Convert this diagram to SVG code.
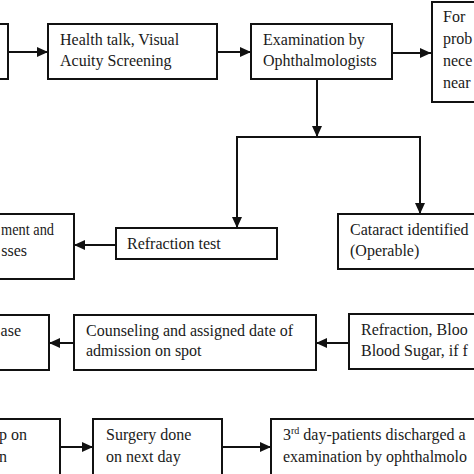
<svg xmlns="http://www.w3.org/2000/svg" width="474" height="474" viewBox="0 0 474 474">
<defs>
<marker id="ah" markerUnits="userSpaceOnUse" markerWidth="11" markerHeight="10" refX="11" refY="5" orient="auto">
<path d="M0,0 L11,5 L0,10 z" fill="#111"/>
</marker>
<style>
.box{fill:#fff;stroke:#111;stroke-width:2}
.ln{fill:none;stroke:#111;stroke-width:2}
.ar{fill:none;stroke:#111;stroke-width:2;marker-end:url(#ah)}
text{font-family:"Liberation Serif","Times New Roman",serif;font-size:16px;fill:#1a1a1a}
.e{text-anchor:end}
</style>
</defs>
<rect width="474" height="474" fill="#fff"/>
<g id="connectors">
<line class="ar" x1="8" y1="52" x2="48" y2="52"/>
<line class="ar" x1="217" y1="52" x2="251" y2="52"/>
<line class="ar" x1="392" y1="53" x2="431" y2="53"/>
<line class="ar" x1="317" y1="79" x2="317" y2="137"/>
<line class="ln" x1="236" y1="137" x2="421" y2="137"/>
<line class="ar" x1="237" y1="137" x2="237" y2="228"/>
<line class="ar" x1="420" y1="137" x2="420" y2="214"/>
<line class="ar" x1="116" y1="245" x2="74" y2="245"/>
<line class="ar" x1="349" y1="343" x2="316" y2="343"/>
<line class="ar" x1="74" y1="343" x2="49" y2="343"/>
<line class="ar" x1="60" y1="447" x2="93" y2="447"/>
<line class="ar" x1="222" y1="447" x2="271" y2="447"/>
</g>
<g id="n1"><path class="box" d="M0,24 H8 V79 H0"/></g>
<g id="n2"><rect class="box" x="48" y="24" width="169" height="55"/>
<text x="60" y="45">Health talk, Visual</text>
<text x="60" y="66">Acuity Screening</text></g>
<g id="n3"><rect class="box" x="251" y="24" width="141" height="55"/>
<text x="263" y="45">Examination by</text>
<text x="263" y="66">Ophthalmologists</text></g>
<g id="n4"><path class="box" d="M474,2 H432 V102 H474"/>
<text x="443" y="22">For</text>
<text x="443" y="44">prob</text>
<text x="443" y="66">nece</text>
<text x="443" y="88">near</text></g>
<g id="n5"><rect class="box" x="116" y="228" width="161" height="31"/>
<text x="127" y="249">Refraction test</text></g>
<g id="n6"><path class="box" d="M0,214 H74 V279 H0"/>
<text x="1" y="235" textLength="53" lengthAdjust="spacingAndGlyphs">ment and</text>
<text class="e" x="27" y="256">sses</text></g>
<g id="n7"><path class="box" d="M474,214 H338 V269 H474"/>
<text x="350" y="235">Cataract identified</text>
<text x="350" y="256">(Operable)</text></g>
<g id="n8"><path class="box" d="M474,314 H349 V369 H474"/>
<text x="361" y="335">Refraction, Bloo</text>
<text x="361" y="356">Blood Sugar, if f</text></g>
<g id="n9"><rect class="box" x="74" y="315" width="242" height="55"/>
<text x="86" y="336">Counseling and assigned date of</text>
<text x="86" y="356">admission on spot</text></g>
<g id="n10"><path class="box" d="M0,315 H49 V370 H0"/>
<text class="e" x="21" y="336">ase</text></g>
<g id="n11"><path class="box" d="M0,419 H60 V474"/>
<text class="e" x="27" y="440">p on</text>
<text class="e" x="7" y="462">n</text></g>
<g id="n12"><path class="box" d="M93,474 V419 H222 V474"/>
<text x="106" y="440">Surgery done</text>
<text x="106" y="462">on next day</text></g>
<g id="n13"><path class="box" d="M474,419 H271 V474"/>
<text x="283" y="440">3<tspan font-size="10" dy="-6">rd</tspan><tspan dy="6"> day-patients discharged a</tspan></text>
<text x="283" y="462">examination by ophthalmolo</text></g>
</svg>
